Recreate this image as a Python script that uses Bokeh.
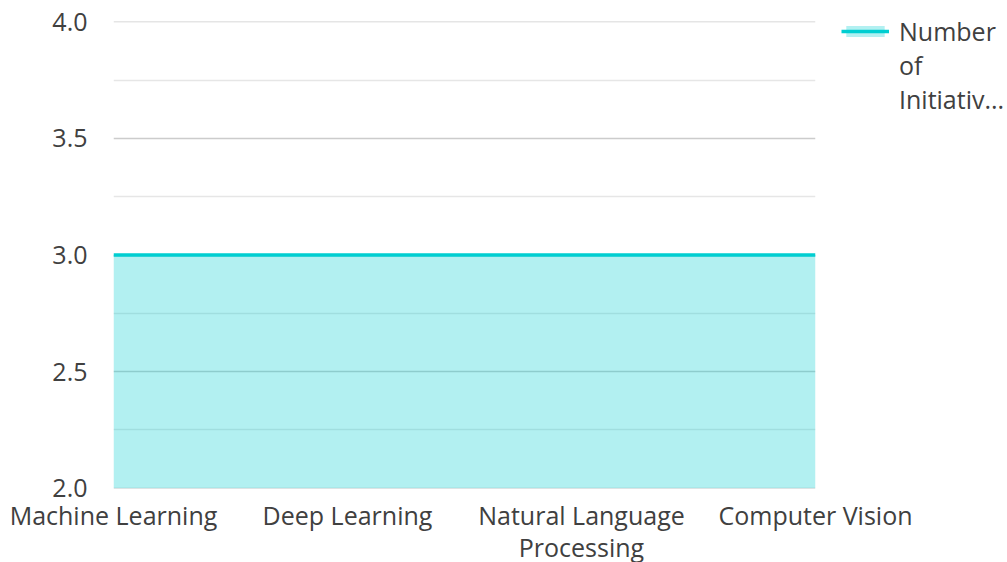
from bokeh.plotting import figure
from bokeh.models import (Range1d, FixedTicker, Legend, LegendItem, ColumnDataSource,
                          NumeralTickFormatter)
from bokeh.embed import file_html
from bokeh.resources import INLINE

categories = ["Machine Learning", "Deep Learning", "Natural Language\nProcessing", "Computer Vision"]
initiatives = [3, 3, 3, 3]
y_ticks = [2.0, 2.5, 3.0, 3.5, 4.0]
y_minor = [2.25, 2.75, 3.25, 3.75]
legend_lines = ["Number", "of", "Initiativ..."]

FONT = "Open Sans"
TEXT = "#404040"
COLOR = "#00CED1"
FS = "25px"

xs = list(range(len(categories)))
src = ColumnDataSource(dict(x=xs, y=initiatives, base=[y_ticks[0]] * len(xs)))

eps = 0.001
p = figure(output_backend="svg", toolbar_location=None,
           x_range=Range1d(0, len(categories) - 1),
           y_range=Range1d(y_ticks[0] - eps, y_ticks[-1] + eps),
           frame_width=702, frame_height=467, min_border_left=113, min_border_top=21,
           min_border_bottom=74, min_border_right=0)
p.outline_line_color = None
p.background_fill_color = "white"

area = p.varea(x="x", y1="base", y2="y", source=src, fill_color=COLOR, fill_alpha=0.3)
line = p.line(x="x", y="y", source=src, line_color=COLOR, line_width=3.5)

# invisible placeholders so the wrapped legend label lines stack below the swatch
dummy_src = ColumnDataSource(dict(x=[], y=[]))
dummies = [p.line(x="x", y="y", source=dummy_src, line_alpha=0) for _ in legend_lines[1:]]

p.xaxis.ticker = FixedTicker(ticks=xs)
p.xaxis.major_label_overrides = {i: c for i, c in zip(xs, categories)}
p.yaxis.ticker = FixedTicker(ticks=y_ticks, minor_ticks=y_minor)
p.yaxis.formatter = NumeralTickFormatter(format="0.0")

for ax in (p.xaxis[0], p.yaxis[0]):
    ax.axis_line_color = None
    ax.major_tick_line_color = None
    ax.minor_tick_line_color = None
    ax.major_label_text_font = FONT
    ax.major_label_text_font_size = FS
    ax.major_label_text_color = TEXT
p.yaxis.major_label_standoff = 20
p.xaxis.major_label_standoff = 3
p.xaxis.major_label_text_line_height = 0.96

p.xgrid.grid_line_color = None
p.ygrid.grid_line_color = "#cccccc"
p.ygrid.grid_line_width = 1.5
p.ygrid.minor_grid_line_color = "#e6e6e6"
p.ygrid.minor_grid_line_width = 1.5

items = [LegendItem(label=legend_lines[0], renderers=[area, line])]
items += [LegendItem(label=t, renderers=[d]) for t, d in zip(legend_lines[1:], dummies)]
legend = Legend(items=items, location=(26, 372), border_line_color=None,
                background_fill_alpha=0,
                label_text_font=FONT, label_text_font_size=FS, label_text_color=TEXT,
                label_text_line_height=0.9, label_height=25,
                glyph_width=48, glyph_height=14,
                margin=0, padding=0, spacing=0, label_standoff=10)
p.add_layout(legend, "right")

open("out.html", "w").write(file_html(p, INLINE))
